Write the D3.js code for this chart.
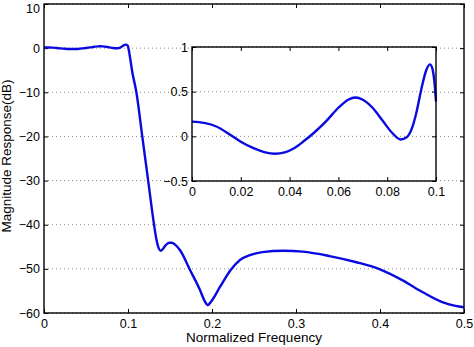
<!DOCTYPE html>
<html><head><meta charset="utf-8">
<script src="https://cdn.jsdelivr.net/npm/d3@7"></script>
<style>
html,body{margin:0;padding:0;background:#fff;}
svg{display:block;font-family:"Liberation Sans",Arial,Helvetica,sans-serif;}
</style></head><body>
<svg id="c" width="474" height="347"></svg>
<script>
// Frequency response (normalized frequency vs magnitude dB)
const freq = [0,0.005,0.01,0.015,0.02,0.025,0.03,0.034,0.038,0.042,0.046,0.05,0.055,0.06,0.064,0.067,0.07,0.074,0.078,0.082,0.0855,0.088,0.09,0.092,0.094,0.096,0.0975,0.0985,0.0993,0.1,
  0.101,0.1025,0.105,0.11,0.117,0.124,0.131,0.134,0.1365,0.139,0.1415,0.145,0.149,0.152,0.156,0.162,0.174,0.1857,0.191,0.195,0.199,0.2095,0.222,0.2333,0.245,0.26,0.285,0.308,0.34,0.372,0.40,0.427,0.451,0.475,0.49,0.5];
const mag = [0.165,0.15,0.11,0.03,-0.06,-0.13,-0.18,-0.195,-0.18,-0.13,-0.05,0.04,0.17,0.32,0.41,0.435,0.41,0.32,0.18,0.04,-0.035,-0.01,0.08,0.27,0.53,0.74,0.805,0.76,0.62,0.39,
  -0.5,-2.2,-5.3,-10,-20,-30,-40,-43.5,-45.3,-45.9,-45.5,-44.6,-44.1,-44.1,-44.5,-45.8,-50.3,-54.8,-57.2,-58.2,-57.4,-54.1,-50.3,-48.0,-46.9,-46.2,-45.9,-46.1,-47.1,-48.5,-50.1,-52.6,-55.3,-57.6,-58.4,-58.7];
const mainXTicks = [0,0.1,0.2,0.3,0.4,0.5];
const mainYTicks = [-60,-50,-40,-30,-20,-10,0,10];
const insetXTicks = [0,0.02,0.04,0.06,0.08,0.1];
const insetYTicks = [-0.5,0,0.5,1];
const xLabel = "Normalized Frequency";
const yLabel = "Magnitude Response(dB)";

const svg = d3.select("#c");
const data = freq.map((f,i)=>({f, m: mag[i]}));
const fmt = v => { let s = String(v); return v < 0 ? "\u2212" + s.slice(1) : s; };
const tickFont = 12.5;

function panel(g, x, y, xt, yt, pts, opts){
  const [x0,x1] = x.range(), [y0,y1] = y.range(); // y0 bottom
  if (opts.bg) g.append("rect").attr("x",x0).attr("y",y1).attr("width",x1-x0).attr("height",y0-y1).attr("fill","#fff");
  g.append("g").selectAll("line").data(yt).join("line")
    .attr("x1",x0).attr("x2",x1).attr("y1",d=>y(d)).attr("y2",d=>y(d))
    .attr("stroke","#8a8a8a").attr("stroke-width",1).attr("stroke-dasharray","1,3");
  const tl = 4;
  const ax = g.append("g").attr("transform",`translate(0,${y0})`)
    .call(d3.axisBottom(x).tickValues(xt).tickSize(-tl).tickPadding(opts.xpad).tickFormat(fmt));
  const axT = g.append("g").attr("transform",`translate(0,${y1})`)
    .call(d3.axisTop(x).tickValues(xt).tickSize(-tl).tickFormat(""));
  const ay = g.append("g").attr("transform",`translate(${x0},0)`)
    .call(d3.axisLeft(y).tickValues(yt).tickSize(-tl).tickPadding(opts.ypad).tickFormat(fmt));
  const ayR = g.append("g").attr("transform",`translate(${x1},0)`)
    .call(d3.axisRight(y).tickValues(yt).tickSize(-tl).tickFormat(""));
  [ax,axT,ay,ayR].forEach(a=>{
    a.select(".domain").remove();
    a.selectAll("line").attr("stroke","#000").attr("stroke-width",1);
    a.selectAll("text").attr("font-size",tickFont).attr("fill","#000").attr("font-family","Liberation Sans, Arial, sans-serif");
  });
  if (opts.topNudge) ay.selectAll(".tick").filter(d=>d===yt[yt.length-1]).select("text").attr("dy","0.7em");
  g.append("path").datum(pts)
    .attr("fill","none").attr("stroke","#0a0ae0").attr("stroke-width",2.4).attr("stroke-linejoin","round")
    .attr("d", d3.line().x(d=>x(d.f)).y(d=>y(d.m)).curve(d3.curveMonotoneX));
  g.append("rect").attr("x",x0).attr("y",y1).attr("width",x1-x0).attr("height",y0-y1)
    .attr("fill","none").attr("stroke","#000").attr("stroke-width",1.4);
}

const xM = d3.scaleLinear().domain([0,0.5]).range([44,464]);
const yM = d3.scaleLinear().domain([-60,10]).range([313,4]);
panel(svg.append("g"), xM, yM, mainXTicks, mainYTicks, data, {xpad:6, ypad:4, topNudge:true});

const xI = d3.scaleLinear().domain([0,0.1]).range([192,436]);
const yI = d3.scaleLinear().domain([-0.5,1]).range([181,47]);
panel(svg.append("g"), xI, yI, insetXTicks, insetYTicks, data.filter(d=>d.f<=0.1), {bg:true, xpad:6, ypad:4});

svg.append("text").attr("x",254).attr("y",342).attr("text-anchor","middle")
  .attr("font-size",13.5).text(xLabel);
svg.append("text").attr("transform","translate(11,156) rotate(-90)").attr("text-anchor","middle")
  .attr("font-size",13.5).text(yLabel);
</script>
</body></html>
